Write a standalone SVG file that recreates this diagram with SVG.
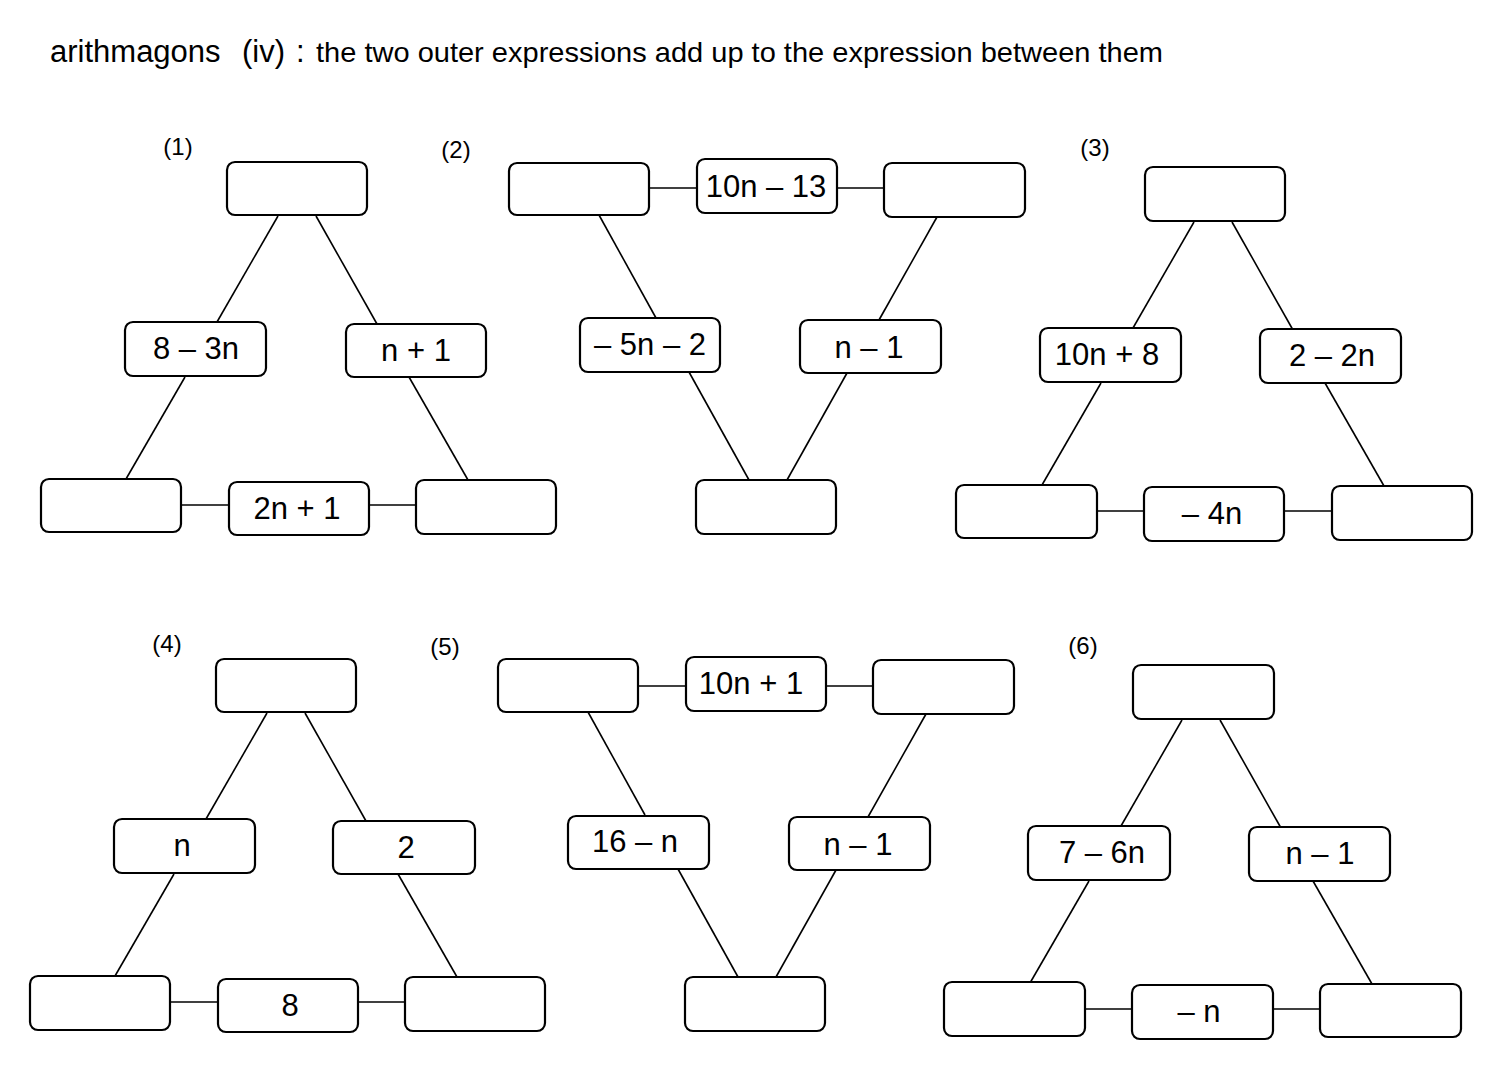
<svg xmlns="http://www.w3.org/2000/svg" width="1504" height="1088" viewBox="0 0 1504 1088">
<style>
rect{fill:#fff;stroke:#000;stroke-width:2.2}
line{stroke:#000;stroke-width:1.6}
text{font-family:"Liberation Sans",Arial,sans-serif;fill:#000}
.l{font-size:31px;text-anchor:middle}
.n{font-size:24px;text-anchor:middle}
</style>
<rect x="0" y="0" width="1504" height="1088" style="fill:#fff;stroke:none"/>
<text x="50" y="62" font-size="31">arithmagons</text>
<text x="242" y="62" font-size="31">(iv)</text>
<text x="296" y="62" font-size="31">:</text>
<text x="316" y="62" font-size="28" textLength="847" lengthAdjust="spacingAndGlyphs">the two outer expressions add up to the expression between them</text>

<g id="d1">
<text class="n" x="178" y="155">(1)</text>
<g id="connectors1"><line x1="278" y1="216" x2="217" y2="322"/><line x1="316" y1="216" x2="377" y2="324"/><line x1="185" y1="377" x2="126" y2="479"/><line x1="409" y1="377" x2="468" y2="480"/><line x1="181" y1="505" x2="229" y2="505"/><line x1="369" y1="505" x2="416" y2="505"/></g>
<g id="n1a"><rect x="227" y="162" width="140" height="53" rx="8"/></g>
<g id="n1b"><rect x="125" y="322" width="141" height="54" rx="8"/><text class="l" x="196" y="359">8 – 3n</text></g>
<g id="n1c"><rect x="346" y="324" width="140" height="53" rx="8"/><text class="l" x="416" y="361">n + 1</text></g>
<g id="n1d"><rect x="41" y="479" width="140" height="53" rx="8"/></g>
<g id="n1e"><rect x="229" y="482" width="140" height="53" rx="8"/><text class="l" x="297" y="519">2n + 1</text></g>
<g id="n1f"><rect x="416" y="480" width="140" height="54" rx="8"/></g>
</g>

<g id="d2">
<text class="n" x="456" y="158">(2)</text>
<g id="connectors2"><line x1="599" y1="215" x2="656" y2="318"/><line x1="937" y1="217" x2="879" y2="320"/><line x1="689" y1="372" x2="749" y2="480"/><line x1="847" y1="373" x2="787" y2="480"/><line x1="649" y1="188" x2="697" y2="188"/><line x1="837" y1="188" x2="884" y2="188"/></g>
<g id="n2a"><rect x="509" y="163" width="140" height="52" rx="8"/></g>
<g id="n2b"><rect x="697" y="159" width="140" height="54" rx="8"/><text class="l" x="766" y="197">10n – 13</text></g>
<g id="n2c"><rect x="884" y="163" width="141" height="54" rx="8"/></g>
<g id="n2d"><rect x="580" y="318" width="140" height="54" rx="8"/><text class="l" x="650" y="355">– 5n – 2</text></g>
<g id="n2e"><rect x="800" y="320" width="141" height="53" rx="8"/><text class="l" x="869" y="358">n – 1</text></g>
<g id="n2f"><rect x="696" y="480" width="140" height="54" rx="8"/></g>
</g>

<g id="d3" transform="translate(916,6)">
<text class="n" x="179" y="150">(3)</text>
<g id="connectors3"><line x1="278" y1="216" x2="217" y2="322"/><line x1="316" y1="216" x2="377" y2="324"/><line x1="185" y1="377" x2="126" y2="479"/><line x1="409" y1="377" x2="468" y2="480"/><line x1="181" y1="505" x2="229" y2="505"/><line x1="369" y1="505" x2="416" y2="505"/></g>
<g id="n3a"><rect x="229" y="161" width="140" height="54" rx="8"/></g>
<g id="n3b"><rect x="124" y="322" width="141" height="54" rx="8"/><text class="l" x="191" y="359">10n + 8</text></g>
<g id="n3c"><rect x="344" y="323" width="141" height="54" rx="8"/><text class="l" x="416" y="360">2 – 2n</text></g>
<g id="n3d"><rect x="40" y="479" width="141" height="53" rx="8"/></g>
<g id="n3e"><rect x="228" y="481" width="140" height="54" rx="8"/><text class="l" x="296" y="518">– 4n</text></g>
<g id="n3f"><rect x="416" y="480" width="140" height="54" rx="8"/></g>
</g>

<g id="d4" transform="translate(-11,497)">
<text class="n" x="178" y="155">(4)</text>
<g id="connectors4"><line x1="278" y1="216" x2="217" y2="322"/><line x1="316" y1="216" x2="377" y2="324"/><line x1="185" y1="377" x2="126" y2="479"/><line x1="409" y1="377" x2="468" y2="480"/><line x1="181" y1="505" x2="229" y2="505"/><line x1="369" y1="505" x2="416" y2="505"/></g>
<g id="n4a"><rect x="227" y="162" width="140" height="53" rx="8"/></g>
<g id="n4b"><rect x="125" y="322" width="141" height="54" rx="8"/><text class="l" x="193" y="359">n</text></g>
<g id="n4c"><rect x="344" y="324" width="142" height="53" rx="8"/><text class="l" x="417" y="361">2</text></g>
<g id="n4d"><rect x="41" y="479" width="140" height="54" rx="8"/></g>
<g id="n4e"><rect x="229" y="482" width="140" height="53" rx="8"/><text class="l" x="301" y="519">8</text></g>
<g id="n4f"><rect x="416" y="480" width="140" height="54" rx="8"/></g>
</g>

<g id="d5" transform="translate(-11,497)">
<text class="n" x="456" y="158">(5)</text>
<g id="connectors5"><line x1="599" y1="215" x2="656" y2="318"/><line x1="937" y1="217" x2="879" y2="320"/><line x1="689" y1="372" x2="749" y2="480"/><line x1="847" y1="373" x2="787" y2="480"/><line x1="649" y1="189" x2="697" y2="189"/><line x1="837" y1="189" x2="884" y2="189"/></g>
<g id="n5a"><rect x="509" y="162" width="140" height="53" rx="8"/></g>
<g id="n5b"><rect x="697" y="160" width="140" height="54" rx="8"/><text class="l" x="762" y="197">10n + 1</text></g>
<g id="n5c"><rect x="884" y="163" width="141" height="54" rx="8"/></g>
<g id="n5d"><rect x="579" y="319" width="141" height="53" rx="8"/><text class="l" x="646" y="355">16 – n</text></g>
<g id="n5e"><rect x="800" y="320" width="141" height="53" rx="8"/><text class="l" x="869" y="358">n – 1</text></g>
<g id="n5f"><rect x="696" y="480" width="140" height="54" rx="8"/></g>
</g>

<g id="d6" transform="translate(904,504)">
<text class="n" x="179" y="150">(6)</text>
<g id="connectors6"><line x1="278" y1="216" x2="217" y2="322"/><line x1="316" y1="216" x2="377" y2="324"/><line x1="185" y1="377" x2="126" y2="479"/><line x1="409" y1="377" x2="468" y2="480"/><line x1="181" y1="505" x2="229" y2="505"/><line x1="369" y1="505" x2="416" y2="505"/></g>
<g id="n6a"><rect x="229" y="161" width="141" height="54" rx="8"/></g>
<g id="n6b"><rect x="124" y="322" width="142" height="54" rx="8"/><text class="l" x="198" y="359">7 – 6n</text></g>
<g id="n6c"><rect x="345" y="323" width="141" height="54" rx="8"/><text class="l" x="416" y="360">n – 1</text></g>
<g id="n6d"><rect x="40" y="478" width="141" height="54" rx="8"/></g>
<g id="n6e"><rect x="228" y="481" width="141" height="54" rx="8"/><text class="l" x="295" y="518">– n</text></g>
<g id="n6f"><rect x="416" y="480" width="141" height="53" rx="8"/></g>
</g>
</svg>
